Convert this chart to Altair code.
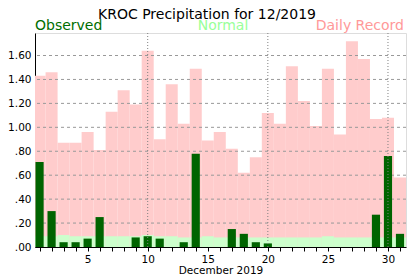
import altair as alt
import pandas as pd

days = list(range(1, 32))
observed = [0.71, 0.30, 0.04, 0.04, 0.07, 0.25, 0, 0, 0.08, 0.09, 0.07, 0, 0.04, 0.78, 0, 0,
            0.15, 0.11, 0.04, 0.03, 0, 0, 0, 0, 0, 0, 0, 0, 0.27, 0.76, 0.11]
normal = [0.09, 0.09, 0.10, 0.09, 0.09, 0.09, 0.09, 0.09, 0.09, 0.10, 0.09, 0.09, 0.08, 0.08, 0.09, 0.08,
          0.08, 0.08, 0.08, 0.08, 0.08, 0.08, 0.08, 0.08, 0.09, 0.08, 0.08, 0.08, 0.08, 0.08, 0.08]
record = [1.43, 1.46, 0.87, 0.87, 0.96, 0.81, 1.13, 1.31, 1.19, 1.64, 0.90, 1.36, 1.03, 1.49, 0.89, 0.96,
          0.82, 0.62, 0.75, 1.12, 1.03, 1.51, 1.22, 1.01, 1.49, 0.94, 1.72, 1.57, 1.07, 1.08, 0.58]
ygrid = [0.2, 0.4, 0.6, 0.8, 1.0, 1.2, 1.4, 1.6]
xgrid = [10, 20, 30]
yticks = [0, 0.2, 0.4, 0.6, 0.8, 1.0, 1.2, 1.4, 1.6]

title_text = "KROC Precipitation for 12/2019"
x_title = "December 2019"

df = pd.DataFrame({"day": days, "obs": observed, "normal": normal, "record": record})
FONT = "DejaVu Sans"

xscale = alt.Scale(domain=[0.62, 31.5], nice=False, zero=False)
yscale = alt.Scale(domain=[0, 1.788], nice=False, zero=True)
xaxis = alt.Axis(values=days, labelExpr="datum.value % 5 == 0 ? datum.value : ''",
                 tickSize=4, tickColor="black", domainColor="black", grid=False,
                 labelFont=FONT, labelFontSize=10.5, labelColor="black", labelPadding=3.5,
                 labelFlush=False, labelOverlap=False,
                 title=x_title, titleFont=FONT, titleFontSize=10.5, titleFontWeight="normal",
                 titleColor="black", titleBaseline="alphabetic", titleY=26)
yaxis = alt.Axis(values=yticks, labelExpr="datum.value < 1 ? replace(format(datum.value, '.2f'), '0.', '.') : format(datum.value, '.2f')",
                 ticks=False, domainColor="black", grid=False, labelFont=FONT, labelFontSize=10.5,
                 labelColor="black", labelPadding=4, title=None)

base = alt.Chart(df).transform_calculate(
    x0="datum.day - 0.5", x1="datum.day + 0.5",
    b0="datum.day - 0.34", b1="datum.day + 0.34")

rec = base.mark_rect(color="#ffcccc", clip=True).encode(
    x=alt.X("x0:Q", scale=xscale, axis=xaxis), x2="x1:Q",
    y=alt.Y("record:Q", scale=yscale, axis=yaxis), y2=alt.datum(0))
nor = base.mark_rect(color="#ccffcc", clip=True).encode(
    x=alt.X("x0:Q", scale=xscale, axis=xaxis), x2="x1:Q",
    y=alt.Y("normal:Q", scale=yscale, axis=yaxis), y2=alt.datum(0))
hgrid = alt.Chart(pd.DataFrame({"v": ygrid})).mark_rule(
    color="#999999", strokeDash=[3, 3], strokeWidth=1).encode(
    y=alt.Y("v:Q", scale=yscale, axis=yaxis))
obs = base.transform_filter("datum.obs > 0").mark_rect(color="#006400", clip=True).encode(
    x=alt.X("b0:Q", scale=xscale, axis=xaxis), x2="b1:Q",
    y=alt.Y("obs:Q", scale=yscale, axis=yaxis), y2=alt.datum(0))
vgrid = alt.Chart(pd.DataFrame({"d": xgrid})).mark_rule(
    color="#808080", strokeDash=[1, 2], strokeWidth=1).encode(
    x=alt.X("d:Q", scale=xscale, axis=xaxis))

def label(txt, color, x, y, align, size):
    return alt.Chart(pd.DataFrame({"t": [txt]})).mark_text(
        font=FONT, fontSize=size, color=color, align=align, baseline="alphabetic").encode(
        text="t:N", x=alt.value(x), y=alt.value(y))

t_title = label(title_text, "black", 172, -14.5, "center", 14)
t_obs = label("Observed", "#006e00", 0, -3, "left", 14)
t_nor = label("Normal", "#99ff99", 188, -3, "center", 14)
t_rec = label("Daily Record", "#ff9999", 369, -3, "right", 14)

chart = alt.layer(rec, nor, hgrid, obs, vgrid, t_title, t_obs, t_nor, t_rec).properties(
    width=371, height=214,
    autosize=alt.AutoSizeParams(type="none"),
    padding={"left": 27, "top": 25, "right": 3, "bottom": 29},
    background="white",
).configure_view(stroke="black", strokeWidth=1).configure(font=FONT)

chart.save("out.html", embed_options={"renderer": "svg", "actions": False})
